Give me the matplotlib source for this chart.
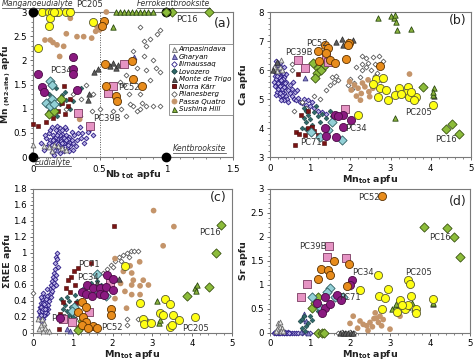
import matplotlib
matplotlib.use("Agg")
import matplotlib.pyplot as plt
from matplotlib.lines import Line2D
from matplotlib.ticker import MultipleLocator, FuncFormatter

# ---------------- data (x, y) pairs ----------------
# Panel (a): Nb_tot vs Mn(M2)
A_AMP = [(0.0,0.25),(0.08,0.23),(0.12,0.2),(0.16,0.24),(0.19,0.22),(0.22,0.18),(0.14,0.12),(0.25,0.15)]
A_GHA = [(0.76,2.07),(0.18,0.15)]
A_ILI = [(0.06,0.30),(0.08,0.15),(0.10,0.40),(0.11,0.22),(0.12,0.50),(0.13,0.35),(0.14,0.10),(0.15,0.45),
         (0.16,0.28),(0.17,0.55),(0.18,0.18),(0.19,0.38),(0.20,0.60),(0.21,0.25),(0.22,0.48),(0.23,0.12),
         (0.24,0.33),(0.25,0.58),(0.26,0.20),(0.27,0.42),(0.28,0.30),(0.29,0.52),(0.30,0.15),(0.31,0.45),
         (0.33,0.35),(0.35,0.62),(0.37,0.50),(0.40,0.40),(0.43,0.58),(0.10,0.20),(0.12,0.30),(0.14,0.25),
         (0.16,0.40),(0.18,0.32),(0.20,0.45),(0.22,0.20),(0.24,0.28),(0.26,0.38),(0.28,0.22),(0.13,0.55),
         (0.15,0.18),(0.17,0.30),(0.19,0.50),(0.21,0.38),(0.23,0.30),(0.25,0.45),(0.27,0.12),(0.30,0.28),
         (0.34,0.50),(0.38,0.30),(0.18,0.65),(0.22,0.55),(0.26,0.25),(0.16,0.05),(0.20,0.08),(0.24,0.62),
         (0.09,0.45),(0.14,0.62),(0.29,0.35),(0.32,0.22),(0.41,0.52),(0.45,0.45),(0.36,0.40),
         (0.15,0.35),(0.17,0.42),(0.19,0.27),(0.21,0.33),(0.23,0.40),(0.25,0.35),(0.18,0.45),(0.22,0.28)]
A_LOV = [(0.12,1.3),(0.15,1.22),(0.17,1.42),(0.2,1.1),(0.22,1.28),(0.25,1.18),(0.12,0.95),(0.28,1.0),
         (0.18,0.85),(0.3,1.15),(0.14,1.05),(0.24,1.35),(0.36,1.42)]
A_MDT = [(0.46,1.76),(0.49,1.83),(0.58,1.88),(0.6,1.94),(0.62,1.85),(0.64,1.9),(0.41,1.18),(0.42,1.3)]
A_NOR = [(0.0,0.68),(0.04,0.65),(0.3,2.07),(0.23,1.46),(0.28,1.19),(0.26,1.05),(0.19,0.95),(0.22,1.12),
         (0.1,0.72),(0.15,0.8),(0.24,0.9)]
A_PIL = [(0.93,2.55),(0.95,2.62),(0.88,2.45),(0.85,2.3),(0.83,2.1),(0.9,2.0),(0.92,1.85),(0.95,1.75),
         (0.85,1.8),(0.75,2.2),(0.78,1.85),(0.7,1.7),(0.68,1.5),(0.72,1.3),(0.65,1.55),(0.75,1.05),
         (0.8,1.0),(0.85,1.05),(0.9,1.05),(0.95,1.05),(0.78,0.95),(0.7,0.85),(0.8,1.3),(0.6,0.95),
         (0.3,1.3),(0.25,1.0),(0.35,0.85),(0.4,1.5),(0.45,1.3),(0.36,1.2),(0.5,1.0),(0.8,2.68),(0.83,2.4),
         (0.88,1.6),(0.73,1.1),(0.82,1.12),(0.66,1.0),(0.44,0.95)]
A_PAS = [(0.09,2.42),(0.13,2.42),(0.18,2.32),(0.23,2.29),(0.2,2.08),(0.33,2.49),(0.38,2.49),(0.44,2.46),
         (0.28,2.87),(0.55,3.0),(0.48,2.7),(0.5,2.63),(0.47,2.6),(0.35,0.78),(0.15,2.37),(0.25,2.55)]
A_SUS = [(0.62,3.0),(0.65,3.0),(0.68,3.0),(0.71,3.0),(0.74,3.0),(0.77,3.0),(0.8,3.0),(0.83,3.0),
         (0.86,3.0),(0.9,3.0),(0.6,2.7)]
A_PC205 = [(0.0,3.0),(0.07,3.0),(0.12,3.0),(0.14,3.0),(0.17,3.0),(0.19,3.0),(0.25,3.0),(0.28,3.0),
           (0.13,2.88),(0.12,2.72),(0.45,2.8),(0.04,2.25),(0.16,3.0)]
A_PC16 = [(1.04,3.0),(1.32,3.0),(0.21,1.21),(0.12,0.88),(0.16,0.95)]
A_PC34 = [(0.3,2.06),(0.3,1.83),(0.3,1.72),(0.04,1.71),(0.07,1.45),(0.08,1.35),(0.33,1.38)]
A_PC52 = [(0.53,2.82),(0.52,2.72),(0.54,1.92),(0.55,1.46),(0.62,1.26),(0.63,1.16),(0.75,1.61),(0.74,1.99),(0.82,1.47)]
A_PC39B = [(0.34,0.92),(0.43,0.64),(0.56,1.32),(0.6,1.46),(0.68,1.92)]
A_PC71 = [(0.125,1.57),(0.14,1.5),(0.1,1.12),(0.14,1.19),(0.125,1.05),(0.16,1.09)]
ENDMEMBERS = [(0.0,0.0),(1.0,0.0),(0.0,3.0),(1.0,3.0)]

# Panel (b): Mn_tot vs Ca
B_AMP = [(0.15,6.05),(0.2,6.2),(0.25,6.12),(0.28,6.35),(0.18,5.95),(0.3,6.0),(0.1,6.1)]
B_GHA = [(0.87,5.74),(0.2,6.25)]
B_ILI = [(0.12,6.1),(0.15,5.9),(0.18,6.2),(0.2,5.7),(0.22,6.0),(0.25,5.8),(0.28,6.1),(0.3,5.6),(0.12,5.8),
         (0.16,5.5),(0.2,5.4),(0.24,5.6),(0.27,5.3),(0.3,5.9),(0.33,5.5),(0.35,5.2),(0.38,5.4),(0.4,5.1),
         (0.42,5.0),(0.18,5.6),(0.22,5.3),(0.26,5.1),(0.32,5.0),(0.36,4.95),(0.14,6.3),(0.1,5.95),(0.21,5.85),
         (0.29,5.45),(0.34,5.75),(0.24,6.25),(0.17,5.25),(0.13,5.45),(0.31,5.25),(0.39,5.6),(0.45,5.3),
         (0.5,5.2),(0.55,5.1),(0.6,5.0),(0.65,4.95),(0.7,5.05),(0.75,4.9),(0.8,4.85),(0.9,4.8),(1.0,4.75),
         (1.1,4.7),(1.2,4.6),(1.3,4.55),(1.4,4.5),(0.55,5.35),(0.62,5.25),(0.68,5.3),(0.85,5.0),(0.95,4.95),
         (1.05,4.9),(0.45,4.9),(0.5,5.5),(0.58,5.6),(0.35,6.1),(0.4,5.85),(0.27,4.95),(0.19,6.05),(0.23,5.45),
         (0.16,5.7),(0.14,5.15),(0.26,5.65),(0.33,5.9),(0.11,5.6),(0.37,5.55),(0.29,5.15),
         (0.15,6.0),(0.2,5.55),(0.25,5.45),(0.3,5.35),(0.22,5.75),(0.27,5.95),(0.17,5.8),(0.32,5.7),
         (0.24,5.2),(0.19,5.35),(0.35,5.4),(0.28,5.65)]
B_LOV = [(0.85,4.7),(0.9,4.6),(0.95,4.45),(0.85,4.35),(0.9,4.2),(1.0,4.3),(1.1,4.55),(1.2,4.4),(1.3,4.5),
         (1.4,4.35),(1.5,4.6),(0.8,4.0),(0.9,3.95),(1.05,4.1),(1.25,4.2),(1.55,4.4),(1.15,4.75)]
B_MDT = [(1.65,6.98),(1.8,7.06),(1.82,6.85),(2.07,7.02),(0.07,6.0),(0.17,6.29),(4.08,5.1),(1.95,7.0)]
B_NOR = [(0.63,3.42),(0.65,3.85),(0.72,3.8),(0.88,3.75),(0.95,4.58),(1.05,4.05),(1.2,3.75),(1.35,3.5),
         (0.7,5.85),(0.95,4.0),(1.1,3.88),(0.78,4.45)]
B_PIL = [(2.3,6.5),(2.4,6.4),(2.55,6.45),(2.7,6.48),(2.3,6.2),(2.45,6.25),(2.6,6.2),(2.15,6.1),(2.3,6.0),
         (2.5,6.0),(2.0,5.7),(1.95,5.5),(2.1,5.55),(2.25,5.75),(1.55,5.75),(1.6,5.6),(1.7,5.65),(1.5,5.5),
         (0.55,6.2),(0.55,6.0),(1.1,5.1),(1.25,5.0),(0.8,4.9),(0.6,4.6),(0.9,4.7),(1.4,5.3),(2.65,5.9),
         (2.75,5.65),(2.05,5.35),(2.8,6.3),(2.6,5.8),(1.65,5.8),(2.4,6.1)]
B_PAS = [(1.98,5.6),(2.02,5.31),(2.19,5.37),(2.27,5.19),(2.25,4.96),(2.36,5.42),(2.44,5.66),(2.46,5.25),
         (2.48,5.08),(2.56,5.37),(2.1,5.48),(2.3,5.55),(3.47,5.86),(2.6,5.55),(2.15,5.1)]
B_SUS = [(2.69,7.79),(3.02,7.85),(3.08,7.79),(3.1,7.9),(3.14,7.64),(3.17,7.39),(3.51,7.41),(3.1,4.33),
         (4.07,5.37),(4.05,5.14),(4.06,5.25)]
B_PC205 = [(2.19,4.44),(2.64,5.68),(2.81,5.71),(2.73,5.37),(2.69,5.08),(2.89,5.31),(2.93,4.96),(3.22,5.37),
           (3.1,5.14),(3.43,5.4),(3.39,5.19),(3.47,5.08),(3.64,5.08),(3.51,5.25),(3.26,5.16),(3.57,4.96),
           (4.05,4.79),(2.56,5.52)]
B_PC16 = [(3.8,5.4),(4.38,3.98),(4.53,4.15),(4.69,3.79),(1.07,6.23),(1.2,6.06),(1.16,5.89),(1.12,5.74),
          (1.28,6.0),(1.36,6.17)]
B_PC34 = [(1.61,4.44),(1.82,4.44),(1.82,4.04),(2.02,4.27),(1.36,4.0),(1.65,3.69),(1.4,3.72),(1.7,4.4)]
B_PC52 = [(1.2,6.64),(1.36,6.87),(1.45,6.75),(1.4,6.58),(1.23,6.31),(1.49,6.35),(1.61,6.23),(1.9,6.37),
          (1.96,6.93),(1.95,6.85),(2.74,6.14)]
B_PC39B = [(0.7,6.33),(0.88,6.06),(1.4,6.44),(1.45,6.29),(1.86,4.65)]
B_PC71 = [(1.03,3.87),(1.24,3.69),(1.53,4.21),(1.45,3.92),(1.78,3.6)]

# Panel (c): Mn_tot vs REE
C_AMP = [(0.15,0.05),(0.25,0.02),(0.3,0.06),(0.2,0.1),(0.12,0.17),(0.35,0.03),(0.4,0.02),(0.28,0.13),(0.22,0.18)]
C_GHA = [(0.92,0.02),(0.85,0.05)]
C_ILI = [(0.15,0.2),(0.18,0.25),(0.2,0.3),(0.22,0.22),(0.25,0.35),(0.27,0.28),(0.3,0.4),(0.32,0.32),
         (0.35,0.25),(0.2,0.38),(0.24,0.18),(0.28,0.45),(0.33,0.38),(0.38,0.35),(0.17,0.32),(0.23,0.42),
         (0.26,0.3),(0.3,0.22),(0.36,0.42),(0.4,0.48),(0.42,0.55),(0.45,0.6),(0.48,0.65),(0.5,0.7),
         (0.52,0.75),(0.55,0.8),(0.56,0.88),(0.58,0.95),(0.6,1.0),(0.44,0.5),(0.47,0.52),(0.5,0.58),
         (0.53,0.62),(0.4,0.4),(0.37,0.3),(0.21,0.15),(0.19,0.45),(0.29,0.34),(0.34,0.46),(0.31,0.27),
         (0.26,0.38),(0.16,0.28),(0.55,0.68),(0.58,0.72),(0.62,0.82),(0.57,0.6),(0.61,0.92),(0.45,0.45),
         (0.35,0.55),(0.24,0.5),(0.27,0.22),(0.33,0.3),(0.21,0.33),(0.29,0.26),
         (0.23,0.27),(0.25,0.3),(0.28,0.36),(0.3,0.3),(0.19,0.22),(0.32,0.42)]
C_LOV = [(0.85,0.45),(0.9,0.4),(0.8,0.35),(0.95,0.32),(0.85,0.28),(0.9,0.22),(1.1,0.4),(1.05,0.48),
         (1.6,0.65),(1.7,0.6),(1.45,0.62),(0.75,0.3),(0.7,0.42),(1.0,0.2)]
C_MDT = [(1.88,0.65),(2.17,0.67),(1.6,0.62)]
C_NOR = [(2.04,1.34),(1.45,0.88),(1.13,0.81),(1.03,0.77),(0.95,0.7),(0.88,0.66),(1.05,0.6),(0.84,0.56),
         (0.92,0.51),(0.76,0.39),(0.67,0.24),(0.66,0.05),(1.09,0.37)]
C_PIL = [(1.75,0.75),(1.85,0.8),(1.95,0.85),(2.05,0.9),(2.15,0.95),(2.25,0.97),(2.35,1.0),(2.45,1.02),
         (2.55,1.03),(2.65,1.02),(2.0,0.83),(2.2,0.9),(2.4,0.95),(2.35,0.18),(2.35,0.1),(2.65,0.17),
         (2.8,0.12),(2.9,0.15),(1.95,0.25),(0.0,0.5)]
C_PAS = [(3.03,1.53),(3.54,1.33),(3.27,1.09),(2.68,0.89),(2.06,0.93),(2.44,0.84),(2.27,0.77),(2.48,0.75),
         (2.52,0.66),(2.48,0.6),(2.77,0.66),(2.9,0.6),(2.69,0.59),(2.31,0.52),(2.48,0.48),(2.69,0.48),
         (2.06,0.43),(2.35,0.31),(2.2,0.62)]
C_SUS = [(3.12,0.4),(4.08,0.56),(4.12,0.6),(3.16,0.13),(3.2,0.16),(4.1,0.53)]
C_PC205 = [(2.31,0.84),(2.70,0.38),(3.32,0.43),(3.44,0.36),(3.2,0.25),(3.27,0.23),(3.52,0.22),(3.66,0.16),
           (4.08,0.2),(2.76,0.17),(2.78,0.11),(2.97,0.12),(3.45,0.08),(3.5,0.1)]
C_PC16 = [(4.73,1.35),(4.59,1.0),(4.42,0.57),(3.87,0.46),(1.22,0.15),(1.18,0.08),(1.14,0.04)]
C_PC34 = [(1.85,0.72),(2.02,0.67),(1.36,0.6),(1.51,0.56),(1.68,0.56),(1.83,0.58),(2.02,0.54),(1.22,0.51),
          (1.33,0.49),(1.68,0.49),(1.47,0.46),(1.78,0.48),(0.69,0.19)]
C_PC52 = [(1.22,0.39),(1.34,0.33),(1.13,0.26),(1.26,0.2),(1.34,0.14),(1.22,0.1),(1.51,0.09),(1.61,0.06),
          (1.38,0.06),(1.97,0.3),(1.97,0.22)]
C_PC39B = [(1.93,0.62),(1.41,0.26),(0.97,0.14),(0.76,0.18)]
C_PC71 = [(1.6,0.74),(1.26,0.52),(1.51,0.49),(1.83,0.46),(1.03,0.33),(0.97,0.27)]

# Panel (d): Mn_tot vs Sr
D_AMP = [(0.2,0.2),(0.22,0.15),(0.26,0.12),(0.18,0.08),(0.3,0.1),(0.28,0.05),(0.15,0.05),(0.24,0.22),(0.32,0.04)]
D_GHA = [(0.85,0.4),(0.8,0.3),(0.9,0.25),(0.78,0.02),(0.95,0.0)]
D_ILI = [(0.1,0.0),(0.15,0.01),(0.2,0.0),(0.25,0.02),(0.3,0.0),(0.35,0.01),(0.4,0.0),(0.45,0.02),(0.5,0.0),
         (0.18,0.03),(0.28,0.03),(0.38,0.03),(0.55,0.01),(0.6,0.0),(0.65,0.01),(0.7,0.0),(0.8,0.01),
         (0.9,0.0),(1.0,0.01),(0.12,0.02),(0.22,0.01),(0.33,0.02),(0.43,0.01),(0.14,0.0),(0.24,0.0),
         (0.34,0.0),(0.48,0.01)]
D_LOV = [(0.75,0.25),(0.8,0.3),(0.85,0.36),(0.9,0.15),(0.95,0.2),(0.8,0.1),(1.0,0.35),(1.2,0.45),(0.88,0.05),(1.05,0.28)]
D_MDT = [(1.75,0.0),(1.82,0.0),(1.88,0.0),(1.95,0.0),(2.02,0.0),(2.08,0.0),(3.15,0.55),(4.08,0.6)]
D_PIL = [(1.7,0.0),(1.8,0.02),(1.9,0.01),(2.0,0.02),(2.1,0.0)]
D_PAS = [(2.08,0.35),(2.0,0.2),(2.25,0.25),(2.33,0.18),(2.42,0.15),(2.5,0.22),(2.56,0.13),(2.67,0.31),
         (2.75,0.35),(2.71,0.22),(2.83,0.28),(2.63,0.42),(3.0,0.08),(3.25,0.35),(2.79,0.15),(2.19,0.1),
         (2.45,0.05),(2.6,0.3)]
D_SUS = [(3.13,0.55),(3.15,0.6),(3.2,0.5),(3.45,0.55),(3.55,0.62),(3.6,0.5),(4.08,0.62),(3.3,0.65),(3.05,0.5)]
D_PC205 = [(2.69,1.21),(2.25,0.9),(3.44,1.1),(3.51,1.03),(2.96,0.91),(2.72,0.77),(2.87,0.72),(2.79,0.51),
           (3.25,0.69),(3.52,0.77),(3.17,0.44),(3.37,0.49),(3.45,0.58),(3.66,0.51),(3.66,0.42),(4.08,0.71),(3.3,0.58)]
D_PC16 = [(3.86,2.21),(4.42,2.18),(4.61,2.01),(4.75,1.59),(1.04,0.53),(1.19,0.74),(1.12,0.62),
          (1.21,0.0),(1.29,0.0),(1.36,0.0)]
D_PC34 = [(2.06,1.1),(2.0,1.0),(1.38,0.76),(1.67,0.79),(1.78,0.69),(1.38,0.52),(1.29,0.42),(1.5,0.6),(1.18,0.62)]
D_PC52 = [(2.81,2.85),(1.28,1.33),(1.46,1.32),(1.6,1.5),(1.98,1.43),(1.5,1.21),(1.21,1.12),(1.92,0.98)]
D_PC39B = [(1.48,1.81),(1.42,1.59),(1.89,1.57),(0.92,1.03),(0.77,0.76)]
D_PC71 = [(1.5,0.93),(1.04,0.74),(1.63,0.74),(1.83,0.76),(1.27,0.53),(1.42,0.86)]

LEGEND_NAMES = ["Ampasindava","Gharyan","Ilimaussaq","Lovozero","Monte de Trigo",
                "Norra Kärr","Pilanesberg","Passa Quatro","Sushina Hill"]

# ---------------- styles ----------------
ST = {
    "AMP": dict(marker="^", s=12, fc="#e4e4e4", ec="#6a6a6a", lw=0.6),
    "GHA": dict(marker="^", s=12, fc="#8a84cc", ec="#3c3880", lw=0.6),
    "ILI": dict(marker="D", s=6, fc="#b8b0e4", ec="#2c1c86", lw=0.6),
    "LOV": dict(marker="D", s=6, fc="#2e6a6a", ec="#1b4040", lw=0.4),
    "MDT": dict(marker="^", s=15, fc="#5c5c5c", ec="#2a2a2a", lw=0.5),
    "NOR": dict(marker="s", s=7, fc="#7a1414", ec="#4a0808", lw=0.4),
    "PIL": dict(marker="D", s=6, fc="white", ec="#5a5a5a", lw=0.6),
    "PAS": dict(marker="o", s=17, fc="#c4946a", ec="none", lw=0),
    "SUS": dict(marker="^", s=15, fc="#8cb43e", ec="#2a4a10", lw=0.6),
    "PC205": dict(marker="o", s=34, fc="#ffff14", ec="#5a5a30", lw=0.6),
    "PC16": dict(marker="D", s=22, fc="#8cbc3a", ec="#3a5410", lw=0.6),
    "PC34": dict(marker="o", s=34, fc="#8a1a80", ec="#4a0a44", lw=0.6),
    "PC52": dict(marker="o", s=34, fc="#e88c1c", ec="#5a3000", lw=0.6),
    "PC39B": dict(marker="s", s=30, fc="#e694c4", ec="#7a3a60", lw=0.6),
    "PC71": dict(marker="D", s=22, fc="#92d0d6", ec="#2e5e62", lw=0.6),
}
ORDER = ["ILI","AMP","GHA","PIL","LOV","NOR","PAS","MDT","SUS","PC16","PC71","PC39B","PC34","PC52","PC205"]

def scatter(ax, key, pts, z):
    if not pts:
        return
    xs = [p[0] for p in pts]; ys = [p[1] for p in pts]
    st = ST[key]
    ax.scatter(xs, ys, marker=st["marker"], s=st["s"], facecolors=st["fc"],
               edgecolors=st["ec"], linewidths=st["lw"], zorder=z, clip_on=False)

fig = plt.figure(figsize=(4.74, 3.61), dpi=100)
def pos(l, t, r, b):
    return [l/474, 1-b/361, (r-l)/474, (b-t)/361]
axA = fig.add_axes(pos(33, 12, 233, 157))
axB = fig.add_axes(pos(270, 12, 471, 157))
axC = fig.add_axes(pos(33, 189, 232, 333))
axD = fig.add_axes(pos(270, 189, 470, 333))

fmt = FuncFormatter(lambda v, p: ("%g" % round(v, 3)))
def style_axes(ax, xlim, ylim, xmaj, xmin, ymaj, ymin, xpad):
    ax.set_xlim(*xlim); ax.set_ylim(*ylim)
    ax.xaxis.set_major_locator(MultipleLocator(xmaj)); ax.xaxis.set_minor_locator(MultipleLocator(xmin))
    ax.yaxis.set_major_locator(MultipleLocator(ymaj)); ax.yaxis.set_minor_locator(MultipleLocator(ymin))
    ax.xaxis.set_major_formatter(fmt); ax.yaxis.set_major_formatter(fmt)
    for sp in ax.spines.values():
        sp.set_color("#7a7a7a"); sp.set_linewidth(0.8)
    ax.tick_params(which="major", length=2.5, width=0.6, color="#555555", labelsize=6.2, direction="out")
    ax.tick_params(axis="x", which="major", pad=xpad)
    ax.tick_params(axis="y", which="major", pad=2)
    ax.tick_params(which="minor", length=1.5, width=0.5, color="#555555", direction="out")

panels = [
    (axA, dict(AMP=A_AMP, GHA=A_GHA, ILI=A_ILI, LOV=A_LOV, MDT=A_MDT, NOR=A_NOR, PIL=A_PIL, PAS=A_PAS, SUS=A_SUS,
               PC205=A_PC205, PC16=A_PC16, PC34=A_PC34, PC52=A_PC52, PC39B=A_PC39B, PC71=A_PC71)),
    (axB, dict(AMP=B_AMP, GHA=B_GHA, ILI=B_ILI, LOV=B_LOV, MDT=B_MDT, NOR=B_NOR, PIL=B_PIL, PAS=B_PAS, SUS=B_SUS,
               PC205=B_PC205, PC16=B_PC16, PC34=B_PC34, PC52=B_PC52, PC39B=B_PC39B, PC71=B_PC71)),
    (axC, dict(AMP=C_AMP, GHA=C_GHA, ILI=C_ILI, LOV=C_LOV, MDT=C_MDT, NOR=C_NOR, PIL=C_PIL, PAS=C_PAS, SUS=C_SUS,
               PC205=C_PC205, PC16=C_PC16, PC34=C_PC34, PC52=C_PC52, PC39B=C_PC39B, PC71=C_PC71)),
    (axD, dict(AMP=D_AMP, GHA=D_GHA, ILI=D_ILI, LOV=D_LOV, MDT=D_MDT, NOR=[], PIL=D_PIL, PAS=D_PAS, SUS=D_SUS,
               PC205=D_PC205, PC16=D_PC16, PC34=D_PC34, PC52=D_PC52, PC39B=D_PC39B, PC71=D_PC71)),
]
for ax, data in panels:
    for i, key in enumerate(ORDER):
        scatter(ax, key, data[key], 3 + i * 0.1)

style_axes(axA, (0, 1.5), (0, 3), 0.5, 0.1, 0.5, 0.1, 3.0)
style_axes(axB, (0, 5), (3, 8), 1, 0.2, 1, 0.2, 2.2)
style_axes(axC, (0, 5), (0, 1.8), 1, 0.2, 0.2, 0.05, 1.8)
style_axes(axD, (0, 5), (0, 3), 1, 0.2, 0.5, 0.1, 1.8)

# panel (a) extras
axA.axvline(0.5, ls=(0, (1, 1.5)), color="#555555", lw=0.7, zorder=1)
axA.scatter([p[0] for p in ENDMEMBERS], [p[1] for p in ENDMEMBERS], s=36, c="black", zorder=4.5, clip_on=False)
axA.scatter([1.0], [3.0], marker="D", s=22, facecolors="#8cbc3a", edgecolors="#3a5410", linewidths=0.6, zorder=5, clip_on=False)

lab = dict(fontsize=6.8, fontweight="bold", color="#222222")
axA.set_xlabel(r"Nb$_{\ \mathbf{tot}}$ apfu", **lab)
axA.set_ylabel(r"Mn $_{\mathbf{(M2\text{-}site)}}$ apfu", fontsize=6.6, fontweight="bold", color="#222222")
axB.set_xlabel(r"Mn$_{\mathbf{tot}}$ apfu", **lab)
axB.set_ylabel("Ca apfu", **lab)
axC.set_xlabel(r"Mn$_{\mathbf{tot}}$ apfu", **lab)
axC.set_ylabel("ΣREE apfu", **lab)
axD.set_xlabel(r"Mn$_{\mathbf{tot}}$ apfu", **lab)
axD.set_ylabel("Sr apfu", **lab)
axA.xaxis.set_label_coords(0.5, -0.075)
axB.xaxis.set_label_coords(0.5, -0.11)
axC.xaxis.set_label_coords(0.5, -0.104)
axD.xaxis.set_label_coords(0.5, -0.104)
axA.yaxis.set_label_coords(-0.1, 0.5)
axB.yaxis.set_label_coords(-0.11, 0.5)
axC.yaxis.set_label_coords(-0.105, 0.5)
axD.yaxis.set_label_coords(-0.11, 0.5)

for ax, t, x, y in [(axA, "(a)", 1.42, 2.77), (axB, "(b)", 4.68, 7.7), (axC, "(c)", 4.65, 1.7), (axD, "(d)", 4.7, 2.75)]:
    ax.text(x, y, t, fontsize=9, ha="center", va="center", color="#222222", zorder=10)

pc = dict(fontsize=6, color="#333333", zorder=10, va="center")
axA.text(0.32, 3.16, "PC205", clip_on=False, **pc)
axA.text(1.07, 2.84, "PC16", **pc)
axA.text(0.13, 1.79, "PC34", **pc)
axA.text(0.64, 1.44, "PC52", **pc)
axA.text(0.45, 0.80, "PC39B", **pc)
axB.text(0.90, 6.93, "PC52", **pc)
axB.text(0.38, 6.59, "PC39B", **pc)
axB.text(3.35, 4.55, "PC205", **pc)
axB.text(4.12, 3.62, "PC16", **pc)
axB.text(1.88, 4.0, "PC34", **pc)
axB.text(0.75, 3.5, "PC71", **pc)
axC.text(1.13, 0.86, "PC71", **pc)
axC.text(1.10, 0.70, "PC34", **pc)
axC.text(1.72, 0.075, "PC52", **pc)
axC.text(3.74, 0.06, "PC205", **pc)
axC.text(4.18, 1.26, "PC16", **pc)
axC.text(0.45, 0.18, "PC39B", zorder=2, fontsize=6, color="#333333", va="center")
axD.text(2.2, 2.83, "PC52", **pc)
axD.text(0.72, 1.81, "PC39B", **pc)
axD.text(2.05, 1.27, "PC34", **pc)
axD.text(1.73, 0.73, "PC71", **pc)
axD.text(3.38, 1.27, "PC205", **pc)
axD.text(3.98, 1.98, "PC16", **pc)

# endmember names (italic, underlined)
em = dict(fontsize=5.6, style="italic", color="#333333", va="center", clip_on=False, zorder=10)
em_texts = [
    axA.text(-0.235, 3.17, "Manganoeudialyte", ha="left", **em),
    axA.text(0.78, 3.17, "Ferrokentbrooksite", ha="left", **em),
    axA.text(0.015, -0.11, "Eudialyte", ha="left", **em),
    axA.text(1.05, 0.17, "Kentbrooksite", ha="left", **em),
]

# legend
handles = []
for key, name in zip(["AMP","GHA","ILI","LOV","MDT","NOR","PIL","PAS","SUS"], LEGEND_NAMES):
    st = ST[key]
    ms = {"ILI": 2.8, "PIL": 2.8, "LOV": 2.8, "NOR": 2.8, "PAS": 3.6}.get(key, 3.6)
    fc = "white" if key == "ILI" else st["fc"]
    handles.append(Line2D([], [], ls="none", marker=st["marker"], markersize=ms,
                          markerfacecolor=fc, markeredgecolor=st["ec"] if st["ec"] != "none" else st["fc"],
                          markeredgewidth=0.6, label=name))
leg = axA.legend(handles=handles, loc="upper right", bbox_to_anchor=(1.0, 0.78), frameon=True,
                 fancybox=False, prop=dict(size=5.0, style="italic"), handlelength=0.7,
                 handletextpad=0.35, labelspacing=0.22, borderpad=0.3, borderaxespad=0.0)
leg.get_frame().set_edgecolor("#7a7a7a"); leg.get_frame().set_linewidth(0.7)
leg.set_zorder(20)

fig.canvas.draw()
renderer = fig.canvas.get_renderer()
for t in em_texts:
    bb = t.get_window_extent(renderer)
    y = bb.y0 + 0.5
    fig.add_artist(Line2D([bb.x0 / fig.bbox.width, bb.x1 / fig.bbox.width],
                          [y / fig.bbox.height, y / fig.bbox.height], color="#333333", lw=0.5))

fig.savefig("out.png", dpi=100, facecolor="white")
